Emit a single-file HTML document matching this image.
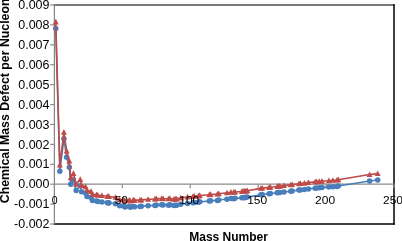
<!DOCTYPE html><html><head><meta charset="utf-8"><title>Chemical Mass Defect per Nucleon</title>
<style>html,body{margin:0;padding:0;background:#fff;overflow:hidden}svg{display:block}text{font-family:"Liberation Sans",Arial,Helvetica,sans-serif;fill:#000}</style></head><body>
<svg width="402" height="241" viewBox="0 0 402 241">
<rect width="402" height="241" fill="#fff"/>
<line x1="53.6" y1="5.0" x2="394.8" y2="5.0" stroke="#4c4c4c" stroke-width="1.7"/>
<line x1="394.0" y1="4.2" x2="394.0" y2="224.8" stroke="#000" stroke-width="1.5"/>
<line x1="53.6" y1="224.0" x2="394.8" y2="224.0" stroke="#000" stroke-width="1.35"/>
<line x1="54.4" y1="5.0" x2="54.4" y2="224.0" stroke="#858585" stroke-width="1.2"/>
<line x1="54.4" y1="184.18" x2="394.0" y2="184.18" stroke="#8a8a8a" stroke-width="1.2"/>
<line x1="50.1" y1="224.00" x2="54.4" y2="224.00" stroke="#8e8e8e" stroke-width="1.2"/>
<text transform="translate(49.5,228.20) scale(1.04,1)" font-size="12" text-anchor="end">-0.002</text>
<line x1="50.1" y1="204.09" x2="54.4" y2="204.09" stroke="#8e8e8e" stroke-width="1.2"/>
<text transform="translate(49.5,208.29) scale(1.04,1)" font-size="12" text-anchor="end">-0.001</text>
<line x1="50.1" y1="184.18" x2="54.4" y2="184.18" stroke="#8e8e8e" stroke-width="1.2"/>
<text transform="translate(49.5,188.38) scale(1.04,1)" font-size="12" text-anchor="end">0.000</text>
<line x1="50.1" y1="164.27" x2="54.4" y2="164.27" stroke="#8e8e8e" stroke-width="1.2"/>
<text transform="translate(49.5,168.47) scale(1.04,1)" font-size="12" text-anchor="end">0.001</text>
<line x1="50.1" y1="144.36" x2="54.4" y2="144.36" stroke="#8e8e8e" stroke-width="1.2"/>
<text transform="translate(49.5,148.56) scale(1.04,1)" font-size="12" text-anchor="end">0.002</text>
<line x1="50.1" y1="124.45" x2="54.4" y2="124.45" stroke="#8e8e8e" stroke-width="1.2"/>
<text transform="translate(49.5,128.65) scale(1.04,1)" font-size="12" text-anchor="end">0.003</text>
<line x1="50.1" y1="104.55" x2="54.4" y2="104.55" stroke="#8e8e8e" stroke-width="1.2"/>
<text transform="translate(49.5,108.75) scale(1.04,1)" font-size="12" text-anchor="end">0.004</text>
<line x1="50.1" y1="84.64" x2="54.4" y2="84.64" stroke="#8e8e8e" stroke-width="1.2"/>
<text transform="translate(49.5,88.84) scale(1.04,1)" font-size="12" text-anchor="end">0.005</text>
<line x1="50.1" y1="64.73" x2="54.4" y2="64.73" stroke="#8e8e8e" stroke-width="1.2"/>
<text transform="translate(49.5,68.93) scale(1.04,1)" font-size="12" text-anchor="end">0.006</text>
<line x1="50.1" y1="44.82" x2="54.4" y2="44.82" stroke="#8e8e8e" stroke-width="1.2"/>
<text transform="translate(49.5,49.02) scale(1.04,1)" font-size="12" text-anchor="end">0.007</text>
<line x1="50.1" y1="24.91" x2="54.4" y2="24.91" stroke="#8e8e8e" stroke-width="1.2"/>
<text transform="translate(49.5,29.11) scale(1.04,1)" font-size="12" text-anchor="end">0.008</text>
<line x1="50.1" y1="5.00" x2="54.4" y2="5.00" stroke="#8e8e8e" stroke-width="1.2"/>
<text transform="translate(49.5,9.20) scale(1.04,1)" font-size="12" text-anchor="end">0.009</text>
<line x1="54.40" y1="184.18" x2="54.40" y2="188.18" stroke="#8e8e8e" stroke-width="1.2"/>
<line x1="122.32" y1="184.18" x2="122.32" y2="188.18" stroke="#8e8e8e" stroke-width="1.2"/>
<line x1="190.24" y1="184.18" x2="190.24" y2="188.18" stroke="#8e8e8e" stroke-width="1.2"/>
<line x1="258.16" y1="184.18" x2="258.16" y2="188.18" stroke="#8e8e8e" stroke-width="1.2"/>
<line x1="326.08" y1="184.18" x2="326.08" y2="188.18" stroke="#8e8e8e" stroke-width="1.2"/>
<line x1="394.00" y1="184.18" x2="394.00" y2="188.18" stroke="#8e8e8e" stroke-width="1.2"/>
<text transform="translate(228.6,240.9) scale(1.0,1)" font-size="12" font-weight="bold" text-anchor="middle">Mass Number</text>
<text transform="translate(9.2,203.2) rotate(-90) scale(1.027,1)" font-size="12" font-weight="bold">Chemical Mass Defect per Nucleon</text>
<polyline fill="none" stroke="#4a7ebb" stroke-width="1.6" stroke-linejoin="round" points="55.76,28.39 59.83,171.23 63.91,138.67 66.63,157.23 69.34,167.34 70.70,184.18 73.42,179.81 76.13,190.51 80.21,185.86 81.57,191.71 85.64,193.04 87.00,196.59 91.08,197.79 92.44,200.59 96.51,201.03 97.87,201.56 101.94,201.90 108.74,202.90 107.38,202.71 108.74,202.80 115.53,203.69 119.60,205.77 123.68,206.06 125.04,206.96 129.11,206.61 130.47,207.31 134.55,206.72 133.19,206.38 139.98,206.43 141.34,206.22 148.13,205.66 154.92,205.39 156.28,204.99 163.07,204.96 161.71,204.76 168.51,205.16 169.86,204.84 173.94,205.54 175.30,205.24 176.66,205.26 180.73,204.22 187.52,203.40 192.96,202.85 194.32,202.45 198.39,202.31 199.75,201.84 209.26,201.06 210.62,200.82 217.41,200.41 218.77,200.01 230.99,198.54 226.92,199.16 233.71,198.64 235.07,198.33 241.86,197.85 243.22,197.59 244.58,197.63 245.93,197.22 247.29,197.12 260.88,194.70 262.24,194.43 269.03,193.75 270.39,193.53 277.18,192.78 278.54,192.59 279.89,192.54 283.97,191.93 290.76,191.18 292.12,190.92 298.91,190.09 300.27,189.90 304.35,189.49 308.42,188.89 315.21,188.18 316.57,188.01 319.29,187.78 322.00,187.56 328.80,187.08 332.87,186.67 336.95,186.42 338.31,186.05 369.55,180.92 377.70,179.93"/>
<circle cx="55.76" cy="28.39" r="2.75" fill="#4a7ebb"/>
<circle cx="59.83" cy="171.23" r="2.75" fill="#4a7ebb"/>
<circle cx="63.91" cy="138.67" r="2.75" fill="#4a7ebb"/>
<circle cx="66.63" cy="157.23" r="2.75" fill="#4a7ebb"/>
<circle cx="69.34" cy="167.34" r="2.75" fill="#4a7ebb"/>
<circle cx="70.70" cy="184.18" r="2.75" fill="#4a7ebb"/>
<circle cx="73.42" cy="179.81" r="2.75" fill="#4a7ebb"/>
<circle cx="76.13" cy="190.51" r="2.75" fill="#4a7ebb"/>
<circle cx="80.21" cy="185.86" r="2.75" fill="#4a7ebb"/>
<circle cx="81.57" cy="191.71" r="2.75" fill="#4a7ebb"/>
<circle cx="85.64" cy="193.04" r="2.75" fill="#4a7ebb"/>
<circle cx="87.00" cy="196.59" r="2.75" fill="#4a7ebb"/>
<circle cx="91.08" cy="197.79" r="2.75" fill="#4a7ebb"/>
<circle cx="92.44" cy="200.59" r="2.75" fill="#4a7ebb"/>
<circle cx="96.51" cy="201.03" r="2.75" fill="#4a7ebb"/>
<circle cx="97.87" cy="201.56" r="2.75" fill="#4a7ebb"/>
<circle cx="101.94" cy="201.90" r="2.75" fill="#4a7ebb"/>
<circle cx="108.74" cy="202.90" r="2.75" fill="#4a7ebb"/>
<circle cx="107.38" cy="202.71" r="2.75" fill="#4a7ebb"/>
<circle cx="108.74" cy="202.80" r="2.75" fill="#4a7ebb"/>
<circle cx="115.53" cy="203.69" r="2.75" fill="#4a7ebb"/>
<circle cx="119.60" cy="205.77" r="2.75" fill="#4a7ebb"/>
<circle cx="123.68" cy="206.06" r="2.75" fill="#4a7ebb"/>
<circle cx="125.04" cy="206.96" r="2.75" fill="#4a7ebb"/>
<circle cx="129.11" cy="206.61" r="2.75" fill="#4a7ebb"/>
<circle cx="130.47" cy="207.31" r="2.75" fill="#4a7ebb"/>
<circle cx="134.55" cy="206.72" r="2.75" fill="#4a7ebb"/>
<circle cx="133.19" cy="206.38" r="2.75" fill="#4a7ebb"/>
<circle cx="139.98" cy="206.43" r="2.75" fill="#4a7ebb"/>
<circle cx="141.34" cy="206.22" r="2.75" fill="#4a7ebb"/>
<circle cx="148.13" cy="205.66" r="2.75" fill="#4a7ebb"/>
<circle cx="154.92" cy="205.39" r="2.75" fill="#4a7ebb"/>
<circle cx="156.28" cy="204.99" r="2.75" fill="#4a7ebb"/>
<circle cx="163.07" cy="204.96" r="2.75" fill="#4a7ebb"/>
<circle cx="161.71" cy="204.76" r="2.75" fill="#4a7ebb"/>
<circle cx="168.51" cy="205.16" r="2.75" fill="#4a7ebb"/>
<circle cx="169.86" cy="204.84" r="2.75" fill="#4a7ebb"/>
<circle cx="173.94" cy="205.54" r="2.75" fill="#4a7ebb"/>
<circle cx="175.30" cy="205.24" r="2.75" fill="#4a7ebb"/>
<circle cx="176.66" cy="205.26" r="2.75" fill="#4a7ebb"/>
<circle cx="180.73" cy="204.22" r="2.75" fill="#4a7ebb"/>
<circle cx="187.52" cy="203.40" r="2.75" fill="#4a7ebb"/>
<circle cx="192.96" cy="202.85" r="2.75" fill="#4a7ebb"/>
<circle cx="194.32" cy="202.45" r="2.75" fill="#4a7ebb"/>
<circle cx="198.39" cy="202.31" r="2.75" fill="#4a7ebb"/>
<circle cx="199.75" cy="201.84" r="2.75" fill="#4a7ebb"/>
<circle cx="209.26" cy="201.06" r="2.75" fill="#4a7ebb"/>
<circle cx="210.62" cy="200.82" r="2.75" fill="#4a7ebb"/>
<circle cx="217.41" cy="200.41" r="2.75" fill="#4a7ebb"/>
<circle cx="218.77" cy="200.01" r="2.75" fill="#4a7ebb"/>
<circle cx="230.99" cy="198.54" r="2.75" fill="#4a7ebb"/>
<circle cx="226.92" cy="199.16" r="2.75" fill="#4a7ebb"/>
<circle cx="233.71" cy="198.64" r="2.75" fill="#4a7ebb"/>
<circle cx="235.07" cy="198.33" r="2.75" fill="#4a7ebb"/>
<circle cx="241.86" cy="197.85" r="2.75" fill="#4a7ebb"/>
<circle cx="243.22" cy="197.59" r="2.75" fill="#4a7ebb"/>
<circle cx="244.58" cy="197.63" r="2.75" fill="#4a7ebb"/>
<circle cx="245.93" cy="197.22" r="2.75" fill="#4a7ebb"/>
<circle cx="247.29" cy="197.12" r="2.75" fill="#4a7ebb"/>
<circle cx="260.88" cy="194.70" r="2.75" fill="#4a7ebb"/>
<circle cx="262.24" cy="194.43" r="2.75" fill="#4a7ebb"/>
<circle cx="269.03" cy="193.75" r="2.75" fill="#4a7ebb"/>
<circle cx="270.39" cy="193.53" r="2.75" fill="#4a7ebb"/>
<circle cx="277.18" cy="192.78" r="2.75" fill="#4a7ebb"/>
<circle cx="278.54" cy="192.59" r="2.75" fill="#4a7ebb"/>
<circle cx="279.89" cy="192.54" r="2.75" fill="#4a7ebb"/>
<circle cx="283.97" cy="191.93" r="2.75" fill="#4a7ebb"/>
<circle cx="290.76" cy="191.18" r="2.75" fill="#4a7ebb"/>
<circle cx="292.12" cy="190.92" r="2.75" fill="#4a7ebb"/>
<circle cx="298.91" cy="190.09" r="2.75" fill="#4a7ebb"/>
<circle cx="300.27" cy="189.90" r="2.75" fill="#4a7ebb"/>
<circle cx="304.35" cy="189.49" r="2.75" fill="#4a7ebb"/>
<circle cx="308.42" cy="188.89" r="2.75" fill="#4a7ebb"/>
<circle cx="315.21" cy="188.18" r="2.75" fill="#4a7ebb"/>
<circle cx="316.57" cy="188.01" r="2.75" fill="#4a7ebb"/>
<circle cx="319.29" cy="187.78" r="2.75" fill="#4a7ebb"/>
<circle cx="322.00" cy="187.56" r="2.75" fill="#4a7ebb"/>
<circle cx="328.80" cy="187.08" r="2.75" fill="#4a7ebb"/>
<circle cx="332.87" cy="186.67" r="2.75" fill="#4a7ebb"/>
<circle cx="336.95" cy="186.42" r="2.75" fill="#4a7ebb"/>
<circle cx="338.31" cy="186.05" r="2.75" fill="#4a7ebb"/>
<circle cx="369.55" cy="180.92" r="2.75" fill="#4a7ebb"/>
<circle cx="377.70" cy="179.93" r="2.75" fill="#4a7ebb"/>
<polyline fill="none" stroke="#be4b48" stroke-width="1.6" stroke-linejoin="round" points="55.76,22.01 59.83,164.89 63.91,132.32 66.63,150.89 69.34,161.00 70.70,177.85 73.42,173.48 76.13,184.18 80.21,179.52 81.57,185.38 85.64,186.71 87.00,190.26 91.08,191.47 92.44,194.26 96.51,194.71 97.87,195.23 101.94,195.57 108.74,196.58 107.38,196.38 108.74,196.48 115.53,197.36 119.60,199.45 123.68,199.73 125.04,200.64 129.11,200.28 130.47,200.99 134.55,200.40 133.19,200.05 139.98,200.11 141.34,199.90 148.13,199.33 154.92,199.06 156.28,198.67 163.07,198.63 161.71,198.44 168.51,198.83 169.86,198.52 173.94,199.21 175.30,198.92 176.66,198.94 180.73,197.90 187.52,197.07 192.96,196.53 194.32,196.12 198.39,195.98 199.75,195.51 209.26,194.73 210.62,194.50 217.41,194.08 218.77,193.68 230.99,192.22 226.92,192.83 233.71,192.31 235.07,192.01 241.86,191.52 243.22,191.27 244.58,191.30 245.93,190.89 247.29,190.79 260.88,188.37 262.24,188.10 269.03,187.42 270.39,187.20 277.18,186.45 278.54,186.26 279.89,186.21 283.97,185.60 290.76,184.85 292.12,184.59 298.91,183.76 300.27,183.57 304.35,183.16 308.42,182.56 315.21,181.85 316.57,181.68 319.29,181.45 322.00,181.23 328.80,180.75 332.87,180.34 336.95,180.09 338.31,179.72 369.55,174.58 377.70,173.60"/>
<path d="M55.76,18.81L58.76,24.51L52.76,24.51Z" fill="#be4b48"/>
<path d="M59.83,161.69L62.83,167.39L56.83,167.39Z" fill="#be4b48"/>
<path d="M63.91,129.12L66.91,134.82L60.91,134.82Z" fill="#be4b48"/>
<path d="M66.63,147.69L69.63,153.39L63.63,153.39Z" fill="#be4b48"/>
<path d="M69.34,157.80L72.34,163.50L66.34,163.50Z" fill="#be4b48"/>
<path d="M70.70,174.65L73.70,180.35L67.70,180.35Z" fill="#be4b48"/>
<path d="M73.42,170.28L76.42,175.98L70.42,175.98Z" fill="#be4b48"/>
<path d="M76.13,180.98L79.13,186.68L73.13,186.68Z" fill="#be4b48"/>
<path d="M80.21,176.32L83.21,182.02L77.21,182.02Z" fill="#be4b48"/>
<path d="M81.57,182.18L84.57,187.88L78.57,187.88Z" fill="#be4b48"/>
<path d="M85.64,183.51L88.64,189.21L82.64,189.21Z" fill="#be4b48"/>
<path d="M87.00,187.06L90.00,192.76L84.00,192.76Z" fill="#be4b48"/>
<path d="M91.08,188.27L94.08,193.97L88.08,193.97Z" fill="#be4b48"/>
<path d="M92.44,191.06L95.44,196.76L89.44,196.76Z" fill="#be4b48"/>
<path d="M96.51,191.51L99.51,197.21L93.51,197.21Z" fill="#be4b48"/>
<path d="M97.87,192.03L100.87,197.73L94.87,197.73Z" fill="#be4b48"/>
<path d="M101.94,192.37L104.94,198.07L98.94,198.07Z" fill="#be4b48"/>
<path d="M108.74,193.38L111.74,199.08L105.74,199.08Z" fill="#be4b48"/>
<path d="M107.38,193.18L110.38,198.88L104.38,198.88Z" fill="#be4b48"/>
<path d="M108.74,193.28L111.74,198.98L105.74,198.98Z" fill="#be4b48"/>
<path d="M115.53,194.16L118.53,199.86L112.53,199.86Z" fill="#be4b48"/>
<path d="M119.60,196.25L122.60,201.95L116.60,201.95Z" fill="#be4b48"/>
<path d="M123.68,196.53L126.68,202.23L120.68,202.23Z" fill="#be4b48"/>
<path d="M125.04,197.44L128.04,203.14L122.04,203.14Z" fill="#be4b48"/>
<path d="M129.11,197.08L132.11,202.78L126.11,202.78Z" fill="#be4b48"/>
<path d="M130.47,197.79L133.47,203.49L127.47,203.49Z" fill="#be4b48"/>
<path d="M134.55,197.20L137.55,202.90L131.55,202.90Z" fill="#be4b48"/>
<path d="M133.19,196.85L136.19,202.55L130.19,202.55Z" fill="#be4b48"/>
<path d="M139.98,196.91L142.98,202.61L136.98,202.61Z" fill="#be4b48"/>
<path d="M141.34,196.70L144.34,202.40L138.34,202.40Z" fill="#be4b48"/>
<path d="M148.13,196.13L151.13,201.83L145.13,201.83Z" fill="#be4b48"/>
<path d="M154.92,195.86L157.92,201.56L151.92,201.56Z" fill="#be4b48"/>
<path d="M156.28,195.47L159.28,201.17L153.28,201.17Z" fill="#be4b48"/>
<path d="M163.07,195.43L166.07,201.13L160.07,201.13Z" fill="#be4b48"/>
<path d="M161.71,195.24L164.71,200.94L158.71,200.94Z" fill="#be4b48"/>
<path d="M168.51,195.63L171.51,201.33L165.51,201.33Z" fill="#be4b48"/>
<path d="M169.86,195.32L172.86,201.02L166.86,201.02Z" fill="#be4b48"/>
<path d="M173.94,196.01L176.94,201.71L170.94,201.71Z" fill="#be4b48"/>
<path d="M175.30,195.72L178.30,201.42L172.30,201.42Z" fill="#be4b48"/>
<path d="M176.66,195.74L179.66,201.44L173.66,201.44Z" fill="#be4b48"/>
<path d="M180.73,194.70L183.73,200.40L177.73,200.40Z" fill="#be4b48"/>
<path d="M187.52,193.87L190.52,199.57L184.52,199.57Z" fill="#be4b48"/>
<path d="M192.96,193.33L195.96,199.03L189.96,199.03Z" fill="#be4b48"/>
<path d="M194.32,192.92L197.32,198.62L191.32,198.62Z" fill="#be4b48"/>
<path d="M198.39,192.78L201.39,198.48L195.39,198.48Z" fill="#be4b48"/>
<path d="M199.75,192.31L202.75,198.01L196.75,198.01Z" fill="#be4b48"/>
<path d="M209.26,191.53L212.26,197.23L206.26,197.23Z" fill="#be4b48"/>
<path d="M210.62,191.30L213.62,197.00L207.62,197.00Z" fill="#be4b48"/>
<path d="M217.41,190.88L220.41,196.58L214.41,196.58Z" fill="#be4b48"/>
<path d="M218.77,190.48L221.77,196.18L215.77,196.18Z" fill="#be4b48"/>
<path d="M230.99,189.02L233.99,194.72L227.99,194.72Z" fill="#be4b48"/>
<path d="M226.92,189.63L229.92,195.33L223.92,195.33Z" fill="#be4b48"/>
<path d="M233.71,189.11L236.71,194.81L230.71,194.81Z" fill="#be4b48"/>
<path d="M235.07,188.81L238.07,194.51L232.07,194.51Z" fill="#be4b48"/>
<path d="M241.86,188.32L244.86,194.02L238.86,194.02Z" fill="#be4b48"/>
<path d="M243.22,188.07L246.22,193.77L240.22,193.77Z" fill="#be4b48"/>
<path d="M244.58,188.10L247.58,193.80L241.58,193.80Z" fill="#be4b48"/>
<path d="M245.93,187.69L248.93,193.39L242.93,193.39Z" fill="#be4b48"/>
<path d="M247.29,187.59L250.29,193.29L244.29,193.29Z" fill="#be4b48"/>
<path d="M260.88,185.17L263.88,190.87L257.88,190.87Z" fill="#be4b48"/>
<path d="M262.24,184.90L265.24,190.60L259.24,190.60Z" fill="#be4b48"/>
<path d="M269.03,184.22L272.03,189.92L266.03,189.92Z" fill="#be4b48"/>
<path d="M270.39,184.00L273.39,189.70L267.39,189.70Z" fill="#be4b48"/>
<path d="M277.18,183.25L280.18,188.95L274.18,188.95Z" fill="#be4b48"/>
<path d="M278.54,183.06L281.54,188.76L275.54,188.76Z" fill="#be4b48"/>
<path d="M279.89,183.01L282.89,188.71L276.89,188.71Z" fill="#be4b48"/>
<path d="M283.97,182.40L286.97,188.10L280.97,188.10Z" fill="#be4b48"/>
<path d="M290.76,181.65L293.76,187.35L287.76,187.35Z" fill="#be4b48"/>
<path d="M292.12,181.39L295.12,187.09L289.12,187.09Z" fill="#be4b48"/>
<path d="M298.91,180.56L301.91,186.26L295.91,186.26Z" fill="#be4b48"/>
<path d="M300.27,180.37L303.27,186.07L297.27,186.07Z" fill="#be4b48"/>
<path d="M304.35,179.96L307.35,185.66L301.35,185.66Z" fill="#be4b48"/>
<path d="M308.42,179.36L311.42,185.06L305.42,185.06Z" fill="#be4b48"/>
<path d="M315.21,178.65L318.21,184.35L312.21,184.35Z" fill="#be4b48"/>
<path d="M316.57,178.48L319.57,184.18L313.57,184.18Z" fill="#be4b48"/>
<path d="M319.29,178.25L322.29,183.95L316.29,183.95Z" fill="#be4b48"/>
<path d="M322.00,178.03L325.00,183.73L319.00,183.73Z" fill="#be4b48"/>
<path d="M328.80,177.55L331.80,183.25L325.80,183.25Z" fill="#be4b48"/>
<path d="M332.87,177.14L335.87,182.84L329.87,182.84Z" fill="#be4b48"/>
<path d="M336.95,176.89L339.95,182.59L333.95,182.59Z" fill="#be4b48"/>
<path d="M338.31,176.52L341.31,182.22L335.31,182.22Z" fill="#be4b48"/>
<path d="M369.55,171.38L372.55,177.08L366.55,177.08Z" fill="#be4b48"/>
<path d="M377.70,170.40L380.70,176.10L374.70,176.10Z" fill="#be4b48"/>
<text transform="translate(54.60,203.7) scale(0.95,1)" font-size="11" text-anchor="middle">0</text>
<text transform="translate(121.32,203.7) scale(1.09,1)" font-size="11" text-anchor="middle">50</text>
<text transform="translate(189.24,203.7) scale(1.09,1)" font-size="11" text-anchor="middle">100</text>
<text transform="translate(257.16,203.7) scale(1.09,1)" font-size="11" text-anchor="middle">150</text>
<text transform="translate(325.08,203.7) scale(1.09,1)" font-size="11" text-anchor="middle">200</text>
<text transform="translate(393.00,203.7) scale(1.09,1)" font-size="11" text-anchor="middle">250</text>
</svg></body></html>
